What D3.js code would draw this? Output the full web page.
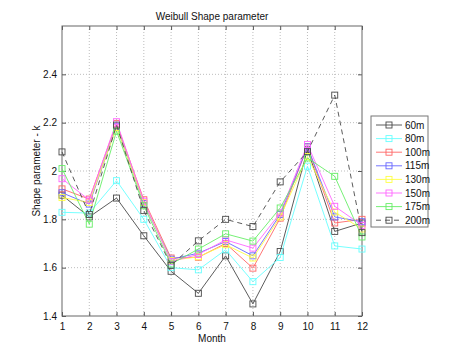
<!DOCTYPE html>
<html><head><meta charset="utf-8">
<script src="https://cdn.jsdelivr.net/npm/d3@7/dist/d3.min.js"></script>
<style>body{margin:0;background:#fff}svg{display:block}text{font-family:"Liberation Sans",Arial,sans-serif}</style>
</head><body><svg id="c" width="474" height="355"></svg>
<script>
const months = [1,2,3,4,5,6,7,8,9,10,11,12];
const seriesNames = ["60m","80m","100m","115m","130m","150m","175m","200m"];
const s60  = [1.90,1.81,1.888,1.732,1.585,1.494,1.649,1.45,1.667,2.09,1.75,1.785];
const s80  = [1.829,1.826,1.96,1.80,1.60,1.591,1.674,1.542,1.642,2.02,1.69,1.677];
const s100 = [1.926,1.884,2.197,1.881,1.64,1.643,1.70,1.598,1.805,2.10,1.785,1.80];
const s115 = [1.91,1.863,2.185,1.865,1.635,1.66,1.708,1.649,1.82,2.10,1.81,1.79];
const s130 = [1.89,1.87,2.18,1.87,1.63,1.645,1.695,1.64,1.81,2.06,1.83,1.76];
const s150 = [1.968,1.88,2.204,1.875,1.625,1.655,1.715,1.681,1.826,2.11,1.854,1.775];
const s175 = [2.010,1.78,2.165,1.856,1.615,1.677,1.74,1.71,1.847,2.054,1.978,1.727];
const s200 = [2.079,1.82,2.19,1.836,1.61,1.711,1.80,1.77,1.955,2.08,2.314,1.745];
const yTicks = [1.4,1.6,1.8,2.0,2.2,2.4];
const allSeries = [s60,s80,s100,s115,s130,s150,s175,s200];
const colors = ["#4a4a4a","#66ffff","#ff6666","#6666ff","#ffff44","#ff66ff","#66ee66","#4a4a4a"];
const dashes = [null,null,null,null,null,null,null,"5,4"];

const svg = d3.select("#c");
const L=62,R=362,T=26,B=316;
const x = d3.scaleLinear().domain([1,12]).range([L,R]);
const y = d3.scaleLinear().domain([1.4,2.6]).range([B,T]);

// grid
const g = svg.append("g");
g.selectAll(".gx").data(months.slice(1,-1)).enter().append("line")
 .attr("x1",d=>x(d)).attr("x2",d=>x(d)).attr("y1",T).attr("y2",B)
 .attr("stroke","#bdbdbd").attr("stroke-dasharray","1,2");
g.selectAll(".gy").data(yTicks.slice(1)).enter().append("line")
 .attr("y1",d=>y(d)).attr("y2",d=>y(d)).attr("x1",L).attr("x2",R)
 .attr("stroke","#bdbdbd").attr("stroke-dasharray","1,2");

// axes
const fmt = d=> (Math.abs(d-2)<1e-9) ? "2" : d3.format(".1f")(d);
const ax = d3.axisBottom(x).tickValues(months).tickSize(-4).tickPadding(7).tickFormat(d3.format("d"));
const ay = d3.axisLeft(y).tickValues(yTicks).tickSize(-4).tickPadding(5).tickFormat(fmt);
const axT = d3.axisTop(x).tickValues(months).tickSize(-4).tickFormat("");
const ayR = d3.axisRight(y).tickValues(yTicks).tickSize(-4).tickFormat("");
function style(sel){sel.select(".domain").remove();sel.selectAll("line").attr("stroke","#555");
  sel.selectAll("text").attr("fill","#111").style("font-size","10px");}
svg.append("g").attr("transform",`translate(0,${B})`).call(ax).call(style);
svg.append("g").attr("transform",`translate(${L},0)`).call(ay).call(style);
svg.append("g").attr("transform",`translate(0,${T})`).call(axT).call(style);
svg.append("g").attr("transform",`translate(${R},0)`).call(ayR).call(style);
svg.append("rect").attr("x",L).attr("y",T).attr("width",R-L).attr("height",B-T)
 .attr("fill","none").attr("stroke","#666").attr("stroke-width",1);

// series
const line = d3.line().x((d,i)=>x(months[i])).y(d=>y(d));
allSeries.forEach((s,k)=>{
  const gg = svg.append("g");
  gg.append("path").datum(s).attr("d",line).attr("fill","none")
    .attr("stroke",colors[k]).attr("stroke-width",0.9).attr("stroke-dasharray",dashes[k]);
  gg.selectAll("rect").data(s).enter().append("rect")
    .attr("x",(d,i)=>x(months[i])-3).attr("y",d=>y(d)-3).attr("width",6).attr("height",6)
    .attr("fill","none").attr("stroke",colors[k]).attr("stroke-width",0.9);
});

// titles
svg.append("text").attr("x",212).attr("y",20).attr("text-anchor","middle").style("font-size","10px").attr("fill","#111").text("Weibull Shape parameter");
svg.append("text").attr("x",212).attr("y",342).attr("text-anchor","middle").style("font-size","10px").attr("fill","#111").text("Month");
svg.append("text").attr("transform","translate(40,171) rotate(-90)").attr("text-anchor","middle").style("font-size","10px").attr("fill","#111").text("Shape parameter - k");

// legend
const lg = svg.append("g");
lg.append("rect").attr("x",371).attr("y",116).attr("width",57).attr("height",111).attr("fill","#fff").attr("stroke","#777");
seriesNames.forEach((n,k)=>{
  const yy = 125 + k*13.6;
  lg.append("line").attr("x1",376).attr("x2",402).attr("y1",yy).attr("y2",yy).attr("stroke",colors[k]).attr("stroke-width",0.9).attr("stroke-dasharray",dashes[k]);
  lg.append("rect").attr("x",386).attr("y",yy-3).attr("width",6).attr("height",6).attr("fill","none").attr("stroke",colors[k]).attr("stroke-width",0.9);
  lg.append("text").attr("x",405).attr("y",yy+3.5).style("font-size","10px").attr("fill","#111").text(n);
});
</script></body></html>
